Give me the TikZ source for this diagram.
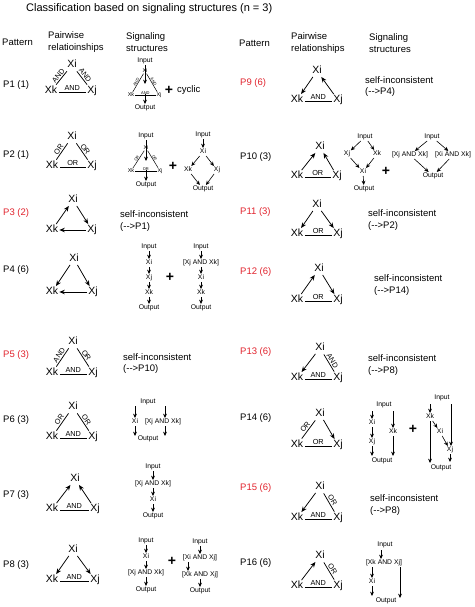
\documentclass[tikz,border=0pt]{standalone}
\usepackage{fontspec}
\setmainfont{Liberation Sans}
\usetikzlibrary{arrows.meta}
\definecolor{pred}{RGB}{225,35,45}
\newcommand\myT{\fontsize{11}{13}\selectfont}
\newcommand\myH{\fontsize{9.5}{12}\selectfont}
\newcommand\myX{\fontsize{10.5}{12}\selectfont}
\newcommand\myE{\fontsize{7.3}{9}\selectfont}
\newcommand\myS{\fontsize{6.8}{8}\selectfont}
\newcommand\myM{\fontsize{5.5}{6}\selectfont}
\newcommand\myL{\fontsize{4}{5}\selectfont}
\newcommand\myP{\fontsize{14}{14}\selectfont\bfseries}
\tikzset{
 xn/.style={font=\myX, inner sep=1pt, text height=7.5pt, text depth=2pt},
 lab/.style={font=\myE, inner sep=1.2pt, midway, sloped, above},
 ln/.style={line width=0.75pt, shorten <=0.5pt, shorten >=0.5pt},
 ar/.style={line width=0.75pt, -{Stealth[length=5.5pt,width=4.5pt]}},
 sn/.style={font=\myS, inner sep=0.6pt, text height=5pt, text depth=1.4pt},
 mn/.style={font=\myM, inner sep=0.5pt},
 mlab/.style={font=\myL, inner sep=0.4pt, midway, sloped, above},
 mln/.style={line width=0.5pt},
 sar/.style={line width=0.6pt, -{Stealth[length=4.3pt,width=3.8pt]}},
 txt/.style={font=\myH, anchor=west, inner sep=0pt},
 rtxt/.style={txt, text=pred},
 plus/.style={font=\myP, inner sep=0pt},
}
\newcommand\mytri[6]{%
 \node[xn] (#1i) at (#2,#3) {Xi};
 \node[xn] (#1k) at (#4,#6) {Xk};
 \node[xn] (#1j) at (#5,#6) {Xj};}
\newcommand\botedge[2]{%
 \draw[ln] ([yshift=1.5pt]#1k.base east) -- node[lab]{#2} ([yshift=1.5pt]#1j.base west);}
\begin{document}
\begin{tikzpicture}[x=1pt,y=-1pt]
\useasboundingbox (0,0) rectangle (474,607);
% title and headers
\node[font=\myT, anchor=west, inner sep=0pt] (title) at (26,9) {Classification based on signaling structures (n = 3)};
\node[txt] (hpat1) at (2,42) {Pattern};
\node[txt, align=left] (hpw1) at (48,42) {Pairwise\\relatioinships};
\node[txt, align=left] (hsig1) at (126,42) {Signaling\\structures};
\node[txt] (hpat2) at (239,43) {Pattern};
\node[txt, align=left] (hpw2) at (291,43) {Pairwise\\relationships};
\node[txt, align=left] (hsig2) at (369,43) {Signaling\\structures};
% row labels
\node[txt] (l1) at (3,85) {P1 (1)};
\node[txt] (l2) at (3,155) {P2 (1)};
\node[rtxt] (l3) at (3,213) {P3 (2)};
\node[txt] (l4) at (3,270) {P4 (6)};
\node[rtxt] (l5) at (3,355) {P5 (3)};
\node[txt] (l6) at (3,420) {P6 (3)};
\node[txt] (l7) at (3,495) {P7 (3)};
\node[txt] (l8) at (3,565) {P8 (3)};
\node[rtxt] (l9) at (240,83) {P9 (6)};
\node[txt] (l10) at (240,157) {P10 (3)};
\node[rtxt] (l11) at (240,212) {P11 (3)};
\node[rtxt] (l12) at (240,272) {P12 (6)};
\node[rtxt] (l13) at (240,352) {P13 (6)};
\node[txt] (l14) at (240,418) {P14 (6)};
\node[rtxt] (l15) at (240,488) {P15 (6)};
\node[txt] (l16) at (240,563) {P16 (6)};
% triangles
\mytri{p1}{72}{65}{51}{92}{91}
\draw[ln] (p1k) -- node[lab]{AND} (p1i);
\draw[ln] (p1i) -- node[lab]{AND} (p1j);
\botedge{p1}{AND}
\mytri{p2}{72}{137}{52}{92}{166}
\draw[ln] (p2k) -- node[lab]{OR} (p2i);
\draw[ln] (p2i) -- node[lab]{OR} (p2j);
\botedge{p2}{OR}
\mytri{p3}{73}{200}{52}{92}{230}
\draw[ar] (p3k) -- (p3i);
\draw[ar] (p3i) -- (p3j);
\draw[ar] (p3j) -- (p3k);
\mytri{p4}{74}{259}{52}{93}{292}
\draw[ar] (p4i) -- (p4k);
\draw[ar] (p4i) -- (p4j);
\draw[ar] (p4j) -- (p4k);
\mytri{p5}{73}{342}{52}{93}{373}
\draw[ln] (p5k) -- node[lab]{AND} (p5i);
\draw[ln] (p5i) -- node[lab]{OR} (p5j);
\botedge{p5}{AND}
\mytri{p6}{73}{407}{52}{93}{437}
\draw[ln] (p6k) -- node[lab]{OR} (p6i);
\draw[ln] (p6i) -- node[lab]{OR} (p6j);
\botedge{p6}{AND}
\mytri{p7}{75}{479}{52}{95}{509}
\draw[ar] (p7k) -- (p7i);
\draw[ar] (p7j) -- (p7i);
\botedge{p7}{AND}
\mytri{p8}{73}{550}{52}{95}{580}
\draw[ar] (p8i) -- (p8k);
\draw[ar] (p8i) -- (p8j);
\botedge{p8}{AND}
\mytri{p9}{317}{71}{297}{338}{100}
\draw[ar] (p9i) -- (p9k);
\draw[ar] (p9j) -- (p9i);
\botedge{p9}{AND}
\mytri{p10}{320}{147}{297}{337}{176}
\draw[ar] (p10k) -- (p10i);
\draw[ar] (p10j) -- (p10i);
\botedge{p10}{OR}
\mytri{p11}{317}{205}{297}{338}{234}
\draw[ar] (p11i) -- (p11k);
\draw[ar] (p11i) -- (p11j);
\botedge{p11}{OR}
\mytri{p12}{319}{269}{297}{338}{300}
\draw[ar] (p12k) -- (p12i);
\draw[ar] (p12i) -- (p12j);
\botedge{p12}{OR}
\mytri{p13}{320}{348}{297}{338}{378}
\draw[ar] (p13i) -- (p13k);
\draw[ln] (p13i) -- node[lab]{AND} (p13j);
\botedge{p13}{AND}
\mytri{p14}{320}{414}{297}{338}{445}
\draw[ln] (p14k) -- node[lab]{OR} (p14i);
\draw[ar] (p14i) -- (p14j);
\botedge{p14}{OR}
\mytri{p15}{320}{487}{297}{338}{518}
\draw[ar] (p15i) -- (p15k);
\draw[ln] (p15i) -- node[lab]{OR} (p15j);
\botedge{p15}{AND}
\mytri{p16}{320}{556}{297}{338}{586}
\draw[ar] (p16k) -- (p16i);
\draw[ln] (p16i) -- node[lab]{OR} (p16j);
\botedge{p16}{AND}
% self-inconsistent texts
\node[txt] (si3) at (120,214) {self-inconsistent};
\node[txt] (sr3) at (120,227) {(-{}-{}>P1)};
\node[txt] (si5) at (123,357) {self-inconsistent};
\node[txt] (sr5) at (123,369) {(-{}-{}>P10)};
\node[txt] (si9) at (365,80) {self-inconsistent};
\node[txt] (sr9) at (365,92) {(-{}-{}>P4)};
\node[txt] (si11) at (368,213) {self-inconsistent};
\node[txt] (sr11) at (368,226) {(-{}-{}>P2)};
\node[txt] (si12) at (374,278) {self-inconsistent};
\node[txt] (sr12) at (374,291) {(-{}-{}>P14)};
\node[txt] (si13) at (368,358) {self-inconsistent};
\node[txt] (sr13) at (368,371) {(-{}-{}>P8)};
\node[txt] (si15) at (370,498) {self-inconsistent};
\node[txt] (sr15) at (370,511) {(-{}-{}>P8)};
% P1 structure
\node[sn] (s1in) at (145,61) {Input};
\node[mn] (s1i) at (145,71) {Xi};
\node[mn] (s1k) at (131,95) {Xk};
\node[mn] (s1j) at (159,95) {Xj};
\node[sn] (s1out) at (145,108) {Output};
\coordinate (s1a) at (145,84);
\coordinate (s1b) at (145,94);
\draw[mln] (s1k) -- node[mlab]{AND} (s1i);
\draw[mln] (s1i) -- node[mlab]{AND} (s1j);
\draw[mln] (s1k) -- node[mlab]{AND} (s1j);
\draw[sar] (s1in) -- (s1a);
\draw[sar] (s1b) -- (s1out);
\node[plus] (pl1) at (169,90) {+};
\node[txt] (cyc) at (177,90) {cyclic};
% P2 structure
\node[sn] (s2in) at (146,136) {Input};
\node[mn] (s2i) at (146,148) {Xi};
\node[mn] (s2k) at (131,171) {Xk};
\node[mn] (s2j) at (160,171) {Xj};
\node[sn] (s2out) at (146,185) {Output};
\coordinate (s2a) at (146,161);
\coordinate (s2b) at (146,170);
\draw[mln] (s2k) -- node[mlab]{OR} (s2i);
\draw[mln] (s2i) -- node[mlab]{OR} (s2j);
\draw[mln] (s2k) -- node[mlab]{OR} (s2j);
\draw[sar] (s2in) -- (s2a);
\draw[sar] (s2b) -- (s2out);
\node[plus] (pl2) at (173,166) {+};
\node[sn] (t2in) at (203,135) {Input};
\node[sn] (t2i) at (203,152) {Xi};
\node[sn] (t2k) at (188,170) {Xk};
\node[sn] (t2j) at (217,170) {Xj};
\node[sn] (t2out) at (203,189) {Output};
\draw[sar] (t2in) -- (t2i);
\draw[sar] (t2i) -- (t2k);
\draw[sar] (t2i) -- (t2j);
\draw[sar] (t2k) -- (t2out);
\draw[sar] (t2j) -- (t2out);
% P4 structure
\node[sn] (s4in) at (149,247) {Input};
\node[sn] (s4i) at (149,263) {Xi};
\node[sn] (s4j) at (149,278) {Xj};
\node[sn] (s4k) at (149,293) {Xk};
\node[sn] (s4out) at (149,308) {Output};
\draw[sar] (s4in) -- (s4i);
\draw[sar] (s4i) -- (s4j);
\draw[sar] (s4j) -- (s4k);
\draw[sar] (s4k) -- (s4out);
\node[plus] (pl4) at (170,277) {+};
\node[sn] (t4in) at (201,247) {Input};
\node[sn] (t4a) at (201,263) {[Xj AND Xk]};
\node[sn] (t4i) at (201,278) {Xi};
\node[sn] (t4k) at (201,293) {Xk};
\node[sn] (t4out) at (201,308) {Output};
\draw[sar] (t4in) -- (t4a);
\draw[sar] (t4a) -- (t4i);
\draw[sar] (t4i) -- (t4k);
\draw[sar] (t4k) -- (t4out);
% P6 structure
\node[sn] (s6in) at (148,402) {Input};
\node[sn] (s6i) at (135,422) {Xi};
\node[sn] (s6a) at (163,422) {[Xj AND Xk]};
\node[sn] (s6out) at (148,439) {Output};
\coordinate (s6c1) at (135,406);
\coordinate (s6c2) at (165,406);
\coordinate (s6d1) at (135,436);
\coordinate (s6d2) at (165,436);
\draw[sar] (s6c1) -- (s6i);
\draw[sar] (s6c2) -- (s6c2 |- s6a.north);
\draw[sar] (s6i) -- (s6d1);
\draw[sar] (s6a.south -| s6d2) -- (s6d2);
% P7 structure
\node[sn] (s7in) at (153,467) {Input};
\node[sn] (s7a) at (153,484) {[Xj AND Xk]};
\node[sn] (s7i) at (153,500) {Xi};
\node[sn] (s7out) at (153,516) {Output};
\draw[sar] (s7in) -- (s7a);
\draw[sar] (s7a) -- (s7i);
\draw[sar] (s7i) -- (s7out);
% P8 structure
\node[sn] (s8in) at (146,541) {Input};
\node[sn] (s8i) at (146,557) {Xi};
\node[sn] (s8a) at (146,573) {[Xj AND Xk]};
\node[sn] (s8out) at (146,590) {Output};
\draw[sar] (s8in) -- (s8i);
\draw[sar] (s8i) -- (s8a);
\draw[sar] (s8a) -- (s8out);
\node[plus] (pl8) at (172,561) {+};
\node[sn] (t8in) at (200,542) {Input};
\node[sn] (t8a) at (200,558) {[Xi AND Xj]};
\node[sn] (t8b) at (200,575) {[Xk AND Xj]};
\node[sn] (t8out) at (200,591) {Output};
\draw[sar] (t8in) -- (t8a);
\draw[sar] (t8a.south -| 188,0) -- (t8b.north -| 188,0);
\draw[sar] (t8b) -- (t8out);
% P10 structure
\node[sn] (s10in) at (365,137) {Input};
\node[sn] (s10j) at (347,154) {Xj};
\node[sn] (s10k) at (377,154) {Xk};
\node[sn] (s10i) at (363,172) {Xi};
\node[sn] (s10out) at (364,189) {Output};
\draw[sar] (s10in) -- (s10j);
\draw[sar] (s10in) -- (s10k);
\draw[sar] (s10j) -- (s10i);
\draw[sar] (s10k) -- (s10i);
\draw[sar] (s10i) -- (s10out);
\node[plus] (pl10) at (386,171) {+};
\node[sn] (t10in) at (432,137) {Input};
\node[sn] (t10a) at (410,155) {[Xj AND Xk]};
\node[sn] (t10b) at (453,155) {[Xi AND Xk]};
\node[sn] (t10out) at (433,176) {Output};
\draw[sar] (t10in) -- (t10a);
\draw[sar] (t10in) -- (t10b);
\draw[sar] (t10a) -- (t10out);
\draw[sar] (t10b) -- (t10out);
% P14 structure
\node[sn] (s14in) at (384,405) {Input};
\node[sn] (s14i) at (372,423) {Xi};
\node[sn] (s14j) at (372,442) {Xj};
\node[sn] (s14k) at (393,432) {Xk};
\node[sn] (s14out) at (382,461) {Output};
\coordinate (s14c1) at (372,411);
\coordinate (s14c2) at (393,411);
\coordinate (s14d1) at (372,456);
\coordinate (s14d2) at (393,456);
\draw[sar] (s14c1) -- (s14i);
\draw[sar] (s14c2) -- (s14k);
\draw[sar] (s14i) -- (s14j);
\draw[sar] (s14j) -- (s14d1);
\draw[sar] (s14k) -- (s14d2);
\node[plus] (pl14) at (413,429) {+};
\node[sn] (t14in) at (442,398) {Input};
\node[sn] (t14k) at (430,417) {Xk};
\node[sn] (t14i) at (440,432) {Xi};
\node[sn] (t14j) at (450,450) {Xj};
\node[sn] (t14out) at (441,468) {Output};
\coordinate (t14c1) at (430,404);
\coordinate (t14c2) at (451,404);
\coordinate (t14d1) at (430,463);
\coordinate (t14d2) at (450,462);
\draw[sar] (t14c1) -- (t14k);
\draw[sar] (t14k) -- (t14i);
\draw[sar] (t14i) -- (t14j);
\draw[sar] (t14c2) -- (t14j.north -| t14c2);
\draw[sar] (t14k) -- (t14d1);
\draw[sar] (t14j) -- (t14d2);
% P16 structure
\node[sn] (s16in) at (385,545) {Input};
\node[sn] (s16a) at (384,563) {[Xk AND Xj]};
\node[sn] (s16i) at (372,582) {Xi};
\node[sn] (s16out) at (386,601) {Output};
\coordinate (s16c) at (381,550);
\coordinate (s16d) at (372,596);
\coordinate (s16e) at (400,598);
\draw[sar] (s16c) -- (s16c |- s16a.north);
\draw[sar] (s16a.south -| s16i) -- (s16i);
\draw[sar] (s16i) -- (s16d);
\draw[sar] (s16a.south -| s16e) -- (s16e);
\end{tikzpicture}
\end{document}
